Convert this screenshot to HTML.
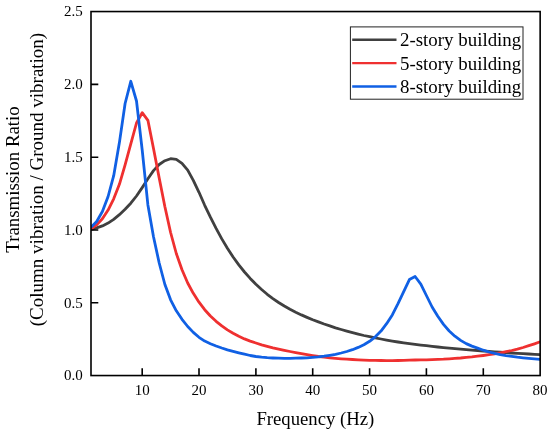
<!DOCTYPE html>
<html><head><meta charset="utf-8"><title>Transmission Ratio</title>
<style>html,body{margin:0;padding:0;background:#fff}svg{display:block}</style></head>
<body>
<svg width="550" height="434" viewBox="0 0 550 434">
<rect width="550" height="434" fill="#fff"/>
<defs><clipPath id="pc"><rect x="91.0" y="11.6" width="449.1" height="364.0"/></clipPath></defs>
<g fill="none" stroke-linejoin="round" stroke-linecap="butt" stroke-width="2.8" clip-path="url(#pc)">
<path stroke="#404040" d="M91.0 229.4 L96.7 227.9 L102.4 225.9 L108.1 223.1 L113.7 219.4 L119.4 214.7 L125.1 209.3 L130.8 203.2 L136.5 196.0 L142.2 187.6 L147.9 178.8 L153.5 170.6 L159.2 164.5 L164.9 160.7 L170.6 158.7 L176.3 159.4 L182.0 163.3 L187.7 170.1 L193.3 180.4 L199.0 192.3 L204.7 205.3 L210.4 217.2 L216.1 228.4 L221.8 238.9 L227.4 248.3 L233.1 257.0 L238.8 264.9 L244.5 272.0 L250.2 278.4 L255.9 284.2 L261.6 289.5 L267.2 294.3 L272.9 298.6 L278.6 302.5 L284.3 306.0 L290.0 309.3 L295.7 312.2 L301.4 314.9 L307.0 317.4 L312.7 319.8 L318.4 321.9 L324.1 324.0 L329.8 325.9 L335.5 327.8 L341.2 329.5 L346.8 331.1 L352.5 332.6 L358.2 334.1 L363.9 335.5 L369.6 336.7 L375.3 337.9 L381.0 339.0 L386.6 340.1 L392.3 341.1 L398.0 342.0 L403.7 342.8 L409.4 343.6 L415.1 344.4 L420.8 345.1 L426.4 345.7 L432.1 346.4 L437.8 347.0 L443.5 347.6 L449.2 348.1 L454.9 348.6 L460.6 349.1 L466.2 349.6 L471.9 350.1 L477.6 350.5 L483.3 351.0 L489.0 351.4 L494.7 351.8 L500.3 352.2 L506.0 352.6 L511.7 353.0 L517.4 353.3 L523.1 353.7 L528.8 354.0 L534.5 354.4 L540.1 354.7"/>
<path stroke="#ef3030" d="M91.0 228.8 L96.7 224.9 L102.4 218.8 L108.1 210.1 L113.7 198.8 L119.4 184.3 L125.1 164.8 L130.8 143.9 L136.5 123.0 L142.2 112.7 L147.9 120.3 L153.5 148.4 L159.2 178.1 L164.9 206.8 L170.6 232.5 L176.3 253.5 L182.0 269.8 L187.7 283.0 L193.3 293.3 L199.0 302.2 L204.7 309.7 L210.4 316.0 L216.1 321.3 L221.8 325.9 L227.4 329.9 L233.1 333.3 L238.8 336.3 L244.5 338.9 L250.2 341.1 L255.9 343.0 L261.6 344.8 L267.2 346.4 L272.9 347.9 L278.6 349.2 L284.3 350.4 L290.0 351.5 L295.7 352.6 L301.4 353.7 L307.0 354.7 L312.7 355.6 L318.4 356.5 L324.1 357.2 L329.8 357.8 L335.5 358.3 L341.2 358.8 L346.8 359.2 L352.5 359.5 L358.2 359.8 L363.9 360.1 L369.6 360.3 L375.3 360.4 L381.0 360.5 L386.6 360.6 L392.3 360.6 L398.0 360.5 L403.7 360.4 L409.4 360.2 L415.1 360.0 L420.8 359.9 L426.4 359.8 L432.1 359.6 L437.8 359.4 L443.5 359.2 L449.2 358.8 L454.9 358.4 L460.6 358.0 L466.2 357.4 L471.9 356.9 L477.6 356.2 L483.3 355.5 L489.0 354.7 L494.7 353.8 L500.3 352.8 L506.0 351.7 L511.7 350.5 L517.4 349.1 L523.1 347.5 L528.8 345.7 L534.5 343.8 L540.1 341.8"/>
<path stroke="#1060e4" d="M91.0 227.3 L96.7 221.5 L102.4 211.5 L108.1 196.5 L113.7 175.7 L119.4 142.6 L125.1 103.5 L130.8 81.3 L136.5 101.0 L142.2 150.0 L147.9 204.9 L153.5 236.8 L159.2 263.0 L164.9 284.5 L170.6 299.8 L176.3 310.8 L182.0 319.3 L187.7 326.5 L193.3 332.4 L199.0 337.3 L204.7 341.1 L210.4 343.7 L216.1 346.0 L221.8 348.0 L227.4 349.8 L233.1 351.3 L238.8 352.8 L244.5 354.2 L250.2 355.5 L255.9 356.5 L261.6 357.2 L267.2 357.7 L272.9 358.0 L278.6 358.2 L284.3 358.3 L290.0 358.3 L295.7 358.2 L301.4 358.0 L307.0 357.8 L312.7 357.4 L318.4 356.9 L324.1 356.2 L329.8 355.3 L335.5 354.3 L341.2 353.0 L346.8 351.5 L352.5 349.7 L358.2 347.4 L363.9 344.7 L369.6 341.3 L375.3 336.8 L381.0 331.1 L386.6 323.7 L392.3 314.9 L398.0 303.7 L403.7 291.7 L409.4 279.6 L415.1 276.5 L420.8 284.1 L426.4 295.5 L432.1 307.0 L437.8 316.3 L443.5 324.4 L449.2 331.0 L454.9 336.2 L460.6 340.4 L466.2 343.6 L471.9 346.1 L477.6 348.1 L483.3 350.2 L489.0 352.0 L494.7 353.4 L500.3 354.6 L506.0 355.6 L511.7 356.4 L517.4 357.2 L523.1 357.8 L528.8 358.4 L534.5 358.9 L540.1 359.3"/>
</g>
<rect x="91.00" y="11.55" width="449.15" height="364.00" fill="none" stroke="#000" stroke-width="1.6"/>
<path d="M142.2 375.6 v-7.3 M199.0 375.6 v-7.3 M255.9 375.6 v-7.3 M312.7 375.6 v-7.3 M369.6 375.6 v-7.3 M426.4 375.6 v-7.3 M483.3 375.6 v-7.3 M91.0 302.8 h7.3 M91.0 230.0 h7.3 M91.0 157.2 h7.3 M91.0 84.4 h7.3" stroke="#000" stroke-width="1.6" fill="none"/>
<g font-family="'Liberation Serif', 'Times New Roman', serif" font-size="15" fill="#000">
<text x="142.2" y="395.1" text-anchor="middle">10</text>
<text x="199.0" y="395.1" text-anchor="middle">20</text>
<text x="255.9" y="395.1" text-anchor="middle">30</text>
<text x="312.7" y="395.1" text-anchor="middle">40</text>
<text x="369.6" y="395.1" text-anchor="middle">50</text>
<text x="426.4" y="395.1" text-anchor="middle">60</text>
<text x="483.3" y="395.1" text-anchor="middle">70</text>
<text x="540.1" y="395.1" text-anchor="middle">80</text>
<text x="82.8" y="380.3" text-anchor="end">0.0</text>
<text x="82.8" y="307.5" text-anchor="end">0.5</text>
<text x="82.8" y="234.7" text-anchor="end">1.0</text>
<text x="82.8" y="161.9" text-anchor="end">1.5</text>
<text x="82.8" y="89.1" text-anchor="end">2.0</text>
<text x="82.8" y="16.3" text-anchor="end">2.5</text>
</g>
<g font-family="'Liberation Serif', 'Times New Roman', serif" font-size="18.7" fill="#000">
<text x="315.3" y="425" text-anchor="middle">Frequency (Hz)</text>
<text transform="translate(19 179.5) rotate(-90)" text-anchor="middle" font-size="18.85">Transmission Ratio</text>
<text transform="translate(43.2 179.5) rotate(-90)" text-anchor="middle" font-size="19">(Column vibration / Ground vibration)</text>
<rect x="350.4" y="26.9" width="172.6" height="72.3" fill="#fff" stroke="#222" stroke-width="1"/>
<path d="M352.2 39.8 H396.5" stroke="#404040" stroke-width="2.4"/>
<text x="400" y="46.2" font-size="18.9">2-story building</text>
<path d="M352.2 63.1 H396.5" stroke="#ef3030" stroke-width="2.4"/>
<text x="400" y="69.6" font-size="18.9">5-story building</text>
<path d="M352.2 86.5 H396.5" stroke="#1060e4" stroke-width="2.4"/>
<text x="400" y="93.0" font-size="18.9">8-story building</text>
</g>
</svg>
</body></html>
